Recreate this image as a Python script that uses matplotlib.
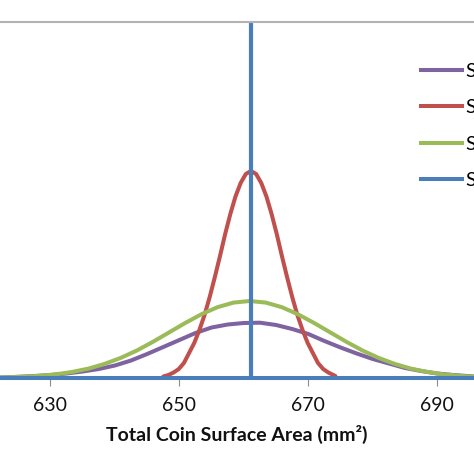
import numpy as np
import matplotlib
matplotlib.use('Agg')
import matplotlib.pyplot as plt
from matplotlib.lines import Line2D

# values (x in mm^2, heights in arbitrary units)
purple_x = [622.2, 625.0, 627.5, 630.0, 632.5, 635.0, 637.5, 640.0, 642.5, 645.0, 647.5,
            650.0, 652.5, 655.0, 657.5, 660.0, 662.5, 665.0, 667.5, 670.0, 672.5, 675.0,
            677.5, 680.0, 682.5, 685.0, 687.5, 690.0, 692.5, 695.7]
purple_y = [0.5, 1.2, 2, 3, 4.5, 6.5, 9, 12.5, 17.5, 24, 31,
            38, 45, 50.5, 53.5, 55, 55.3, 53, 49, 44, 37, 30.5,
            24.5, 19, 14.5, 10, 7, 4.5, 3, 1.5]

green_x = [622.2, 623.4, 625.9, 628.4, 630.9, 633.4, 635.9, 638.4, 640.9, 643.4, 645.9,
           648.4, 650.9, 653.4, 655.9, 658.4, 660.9, 663.4, 665.9, 668.4, 670.9, 673.4,
           675.9, 678.4, 680.9, 683.4, 685.9, 688.4, 690.9, 693.4, 695.7]
green_y = [0.5, 0.7, 1.3, 2.2, 3.7, 6.1, 9.4, 14.1, 20.1, 27.5, 36.2,
           45.6, 55.0, 63.7, 70.8, 75.4, 77.0, 75.4, 70.8, 63.7, 55.0, 45.6,
           36.2, 27.5, 20.1, 14.1, 9.4, 6.1, 3.7, 2.2, 1.3]

red_x = [647.5, 648.3, 649.1, 649.9, 650.7, 651.5, 652.3, 653.1, 653.9, 654.7, 655.5,
         656.3, 657.1, 657.9, 658.7, 659.5, 660.3, 661.1, 661.9, 662.7, 663.5, 664.3,
         665.1, 665.9, 666.7, 667.5, 668.3, 669.1, 669.9, 670.7, 671.5, 672.3, 673.1, 674.2]
red_y = [1.5, 3, 5.5, 9, 15, 25, 35, 48, 63, 81, 101,
         122, 144, 164, 181.5, 195, 204, 207, 204, 195, 181.5, 164,
         144, 122, 101, 81, 63, 48, 35, 25, 15, 9, 5.5, 2]

mean_x = [661.1, 661.1]
mean_y = [0, 400]

labels = ['Series1', 'Series2', 'Series3', 'Series4']
xticks = [630, 650, 670, 690]

c_purple = '#7F63A1'
c_red = '#C0504D'
c_green = '#9BBB59'
c_blue = '#4A7EBB'

plt.rcParams['font.family'] = ['Lato', 'DejaVu Sans']

fig = plt.figure(figsize=(4.74, 4.74), dpi=100)
ax = fig.add_axes([0, 96/474, 1, 356/474])

lw = 2.9
style = dict(lw=lw, solid_capstyle='round', solid_joinstyle='round')
ax.plot(purple_x, purple_y, color=c_purple, **style)
ax.plot(red_x, red_y, color=c_red, **style)
ax.plot(green_x, green_y, color=c_green, **style)
ax.plot(mean_x, mean_y, color=c_blue, lw=3.0)

ax.set_xlim(622.17, 695.7)
ax.set_ylim(0, 356)

for s in ['top', 'left', 'right']:
    ax.spines[s].set_visible(False)
ax.spines['bottom'].set_color(c_blue)
ax.spines['bottom'].set_linewidth(2.9)
ax.spines['bottom'].set_zorder(5)

ax.set_yticks([])
ax.set_xticks(xticks)
ax.tick_params(axis='x', direction='out', length=5.8, width=0.8, color='#8c8c8c',
               labelsize=14, pad=8, labelcolor='#111111')
ax.set_xlabel('Total Coin Surface Area (mm²)', fontsize=14, fontweight='bold',
              color='#111111', labelpad=8)

# chart frame line at the top
fig.add_artist(Line2D([0, 1], [1 - 22/474, 1 - 22/474], color='#b3b3b3', lw=1.5))

# legend, cut off at the right edge as in the reference
handles = [Line2D([], [], color=c, lw=lw) for c in [c_purple, c_red, c_green, c_blue]]
leg = fig.legend(handles, labels, loc='center left', bbox_to_anchor=(421/474, 1 - 126/474),
                 frameon=False, fontsize=14, handlelength=2.1, handletextpad=0.2,
                 labelspacing=1.0, borderpad=0, borderaxespad=0)

fig.savefig('out.png', dpi=100)
